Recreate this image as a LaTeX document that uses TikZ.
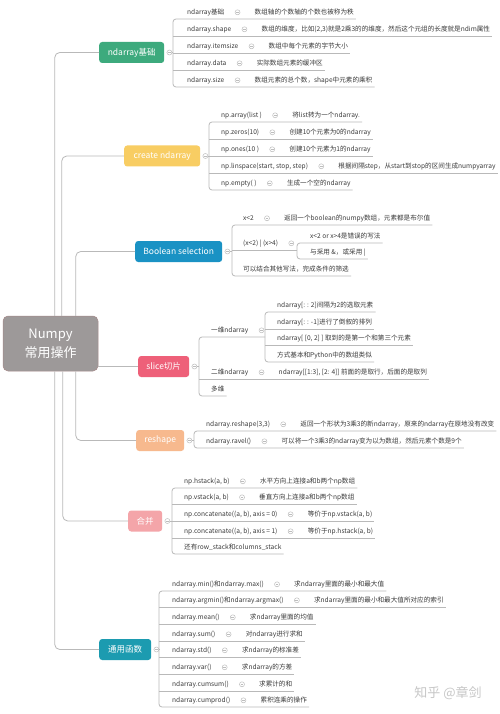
\documentclass[tikz,border=0pt]{standalone}
\usepackage{fontspec}
\setmainfont{Noto Sans CJK SC}
\usetikzlibrary{positioning}
\definecolor{lineg}{HTML}{B9B9B9}
\definecolor{txtc}{HTML}{3A3A3A}
\definecolor{togc}{HTML}{BDBDBD}
\definecolor{cgreen}{HTML}{3DAA7D}
\definecolor{cyellow}{HTML}{F8CD63}
\definecolor{cblue}{HTML}{1A92C4}
\definecolor{cred}{HTML}{EE6079}
\definecolor{corange}{HTML}{F7B98E}
\definecolor{cpink}{HTML}{F4A5A9}
\definecolor{cteal}{HTML}{1C9BB0}
\definecolor{cgray}{HTML}{9D9999}
\newcommand\krow[5]{%
  \node[key,anchor=south west] (#1-k) at (#2-2,#3) {#4};
  \node[tog] (#1-c) at ([xshift=11pt]#1-k.east) {};
  \node[key,anchor=west] (#1-d) at ([xshift=15pt]#1-c.center) {#5};}
\newcommand\konly[4]{\node[key,anchor=south west] (#1-k) at (#2-2,#3) {#4};}
\begin{document}
\begin{tikzpicture}[x=1pt,y=-1pt,
  conn/.style={draw=lineg, line width=0.8pt, rounded corners=3pt},
  rootconn/.style={draw=lineg, line width=0.8pt, rounded corners=5pt},
  key/.style={font=\fontsize{6.6}{8}\selectfont, text=txtc, inner xsep=2pt, inner ysep=3pt, text height=5.5pt, text depth=1.5pt},
  tog/.style={circle, draw=togc, line width=0.5pt, fill=white, minimum size=5pt, inner sep=0pt,
    path picture={\draw[togc, line width=0.5pt] ([xshift=-1.4pt]path picture bounding box.center) -- ([xshift=1.4pt]path picture bounding box.center);}},
  mainbox/.style={rounded corners=3pt, text=white, font=\fontsize{8.5}{10}\selectfont, minimum height=21pt, inner xsep=4pt, anchor=west}
]
\fill[white] (0,0) rectangle (500,714);
\useasboundingbox (0,0) rectangle (500,714);

% root
\node[rounded corners=5pt, fill=cgray, draw=cgray!90!red, line width=0.5pt, minimum width=95pt, minimum height=55pt,
  text=white, font=\fontsize{13}{19}\selectfont, align=center] (root) at (50.5,343.5) {Numpy\\常用操作};

% main topics
\node[mainbox, fill=cgreen, minimum width=65pt] (A) at (99,52.5) {ndarray基础};
\node[mainbox, fill=cyellow, minimum width=76pt] (B) at (124,156) {create ndarray};
\node[mainbox, fill=cblue, minimum width=87pt] (C) at (135,251.5) {Boolean selection};
\node[mainbox, fill=cred, minimum width=51pt] (D) at (138,366.5) {slice切片};
\node[mainbox, fill=corange, minimum width=48pt] (E) at (136,440.5) {reshape};
\node[mainbox, fill=cpink, minimum width=34pt] (F) at (128,521) {合并};
\node[mainbox, fill=cteal, minimum width=52pt] (G) at (99,649.5) {通用函数};
\foreach \m in {A,B,C,D,E,F,G}{\node[tog] (\m-c) at ([xshift=5pt]\m.east) {};}

% root connectors
\draw[rootconn] ([xshift=52pt]root.north west) |- (A.west);
\draw[rootconn] ([xshift=59pt]root.north west) |- (B.west);
\draw[rootconn] ([xshift=73pt]root.north west) |- (C.west);
\draw[conn] (D.west -| root.east) -- (D.west);
\draw[rootconn] ([xshift=73pt]root.south west) |- (E.west);
\draw[rootconn] ([xshift=60pt]root.south west) |- (F.west);
\draw[rootconn] ([xshift=52pt]root.south west) |- (G.west);

% bar coordinates
\coordinate (barA) at (173,0);
\coordinate (barB) at (209,0);
\coordinate (barC) at (232,0);
\coordinate (barC2) at (297,0);
\coordinate (barD) at (199,0);
\coordinate (barD2) at (265,0);
\coordinate (barE) at (194,0);
\coordinate (barF) at (172,0);
\coordinate (barG) at (159,0);

% ---- A: ndarray基础
\krow{a1}{187}{19}{ndarray基础}{数组轴的个数轴的个数也被称为秩}
\krow{a2}{187}{36}{ndarray.shape}{数组的维度，比如(2,3)就是2乘3的的维度，然后这个元组的长度就是ndim属性}
\krow{a3}{187}{53}{ndarray.itemsize}{数组中每个元素的字节大小}
\krow{a4}{187}{70}{ndarray.data}{实际数组元素的缓冲区}
\krow{a5}{187}{87}{ndarray.size}{数组元素的总个数，shape中元素的乘积}
\draw[conn] (A-c.east) -- (A-c.east -| barA);
\draw[conn] (a1-d.south east) -- (a1-k.south west -| barA) -- (a5-k.south west -| barA) -- (a5-d.south east);
\foreach \r in {a2,a3,a4}{\draw[conn] (\r-k.south west -| barA) -- (\r-d.south east);}

% ---- B: create ndarray
\krow{b1}{221}{122}{np.array(list )}{将list转为一个ndarray.}
\krow{b2}{221}{139}{np.zeros(10)}{创建10个元素为0的ndarray}
\krow{b3}{221}{156}{np.ones(10 )}{创建10个元素为1的ndarray}
\krow{b4}{221}{173}{np.linspace(start, stop, step)}{根据间隔step，从start到stop的区间生成numpyarray}
\krow{b5}{221}{190}{np.empty( )}{生成一个空的ndarray}
\draw[conn] (B-c.east) -- (B-c.east -| barB);
\draw[conn] (b1-d.south east) -- (b1-k.south west -| barB) -- (b5-k.south west -| barB) -- (b5-d.south east);
\foreach \r in {b2,b3,b4}{\draw[conn] (\r-k.south west -| barB) -- (\r-d.south east);}

% ---- C: Boolean selection
\krow{c1}{243}{225}{x<2}{返回一个boolean的numpy数组，元素都是布尔值}
\konly{c2}{243}{250}{(x<2) | (x>4)}
\node[tog] (c2-c) at ([xshift=11pt]c2-k.east) {};
\konly{cg1}{310}{243}{x<2 or x>4是错误的写法}
\konly{cg2}{310}{259}{与采用 \&，或采用 |}
\konly{c3}{243}{276}{可以结合其他写法，完成条件的筛选}
\draw[conn] (C-c.east) -- (C-c.east -| barC);
\draw[conn] (c1-d.south east) -- (c1-k.south west -| barC) -- (c3-k.south west -| barC) -- (c3-k.south east);
\draw[conn] (c2-k.south west -| barC) -- (c2-k.south west -| barC2);
\draw[conn] (cg1-k.south east) -- (cg1-k.south west -| barC2) -- (cg2-k.south west -| barC2) -- (cg2-k.south east);

% ---- D: slice切片
\konly{d1}{211}{337}{一维ndarray}
\node[tog] (d1-c) at ([xshift=11pt]d1-k.east) {};
\konly{dg1}{277}{312}{ndarray[: : 2]间隔为2的选取元素}
\konly{dg2}{277}{329}{ndarray[: : -1]进行了倒叙的排列}
\konly{dg3}{277}{345}{ndarray[ [0, 2] ] 取到的是第一个和第三个元素}
\konly{dg4}{277}{362}{方式基本和Python中的数组类似}
\krow{d2}{211}{379}{二维ndarray}{ndarray[[1:3], [2: 4]] 前面的是取行，后面的是取列}
\konly{d3}{211}{396}{多维}
\draw[conn] (D-c.east) -- (D-c.east -| barD);
\draw[conn] (d1-k.south west -| barD2) -- (d1-k.south west -| barD) -- (d3-k.south west -| barD) -- (d3-k.south east);
\draw[conn] (d2-k.south west -| barD) -- (d2-d.south east);
\draw[conn] (dg1-k.south east) -- (dg1-k.south west -| barD2) -- (dg4-k.south west -| barD2) -- (dg4-k.south east);
\foreach \r in {dg2,dg3}{\draw[conn] (\r-k.south west -| barD2) -- (\r-k.south east);}

% ---- E: reshape
\krow{e1}{206}{431}{ndarray.reshape(3,3)}{返回一个形状为3乘3的新ndarray，原来的ndarray在原地没有改变}
\krow{e2}{206}{448}{ndarray.ravel()}{可以将一个3乘3的ndarray变为以为数组，然后元素个数是9个}
\draw[conn] (E-c.east) -- (E-c.east -| barE);
\draw[conn] (e1-d.south east) -- (e1-k.south west -| barE) -- (e2-k.south west -| barE) -- (e2-d.south east);

% ---- F: 合并
\krow{f1}{184}{488}{np.hstack(a, b)}{水平方向上连接a和b两个np数组}
\krow{f2}{184}{504}{np.vstack(a, b)}{垂直方向上连接a和b两个np数组}
\krow{f3}{184}{521}{np.concatenate((a, b), axis = 0)}{等价于np.vstack(a, b)}
\krow{f4}{184}{538}{np.concatenate((a, b), axis = 1)}{等价于np.hstack(a, b)}
\konly{f5}{184}{554}{还有row\_stack和columns\_stack}
\draw[conn] (F-c.east) -- (F-c.east -| barF);
\draw[conn] (f1-d.south east) -- (f1-k.south west -| barF) -- (f5-k.south west -| barF) -- (f5-k.south east);
\foreach \r in {f2,f3,f4}{\draw[conn] (\r-k.south west -| barF) -- (\r-d.south east);}

% ---- G: 通用函数
\krow{g1}{172}{591}{ndarray.min()和ndarray.max()}{求ndarray里面的最小和最大值}
\krow{g2}{172}{607}{ndarray.argmin()和ndarray.argmax()}{求ndarray里面的最小和最大值所对应的索引}
\krow{g3}{172}{624}{ndarray.mean()}{求ndarray里面的均值}
\krow{g4}{172}{641}{ndarray.sum()}{对ndarray进行求和}
\krow{g5}{172}{657}{ndarray.std()}{求ndarray的标准差}
\krow{g6}{172}{674}{ndarray.var()}{求ndarray的方差}
\krow{g7}{172}{691}{ndarray.cumsum()}{求累计的和}
\krow{g8}{172}{707}{ndarray.cumprod()}{累积连乘的操作}
\draw[conn] (G-c.east) -- (G-c.east -| barG);
\draw[conn] (g1-d.south east) -- (g1-k.south west -| barG) -- (g8-k.south west -| barG) -- (g8-d.south east);
\foreach \r in {g2,g3,g4,g5,g6,g7}{\draw[conn] (\r-k.south west -| barG) -- (\r-d.south east);}

% watermark
\node[text=black!22, font=\fontsize{13}{15}\selectfont] (wm) at (448,693) {知乎 @章剑};
\end{tikzpicture}
\end{document}
